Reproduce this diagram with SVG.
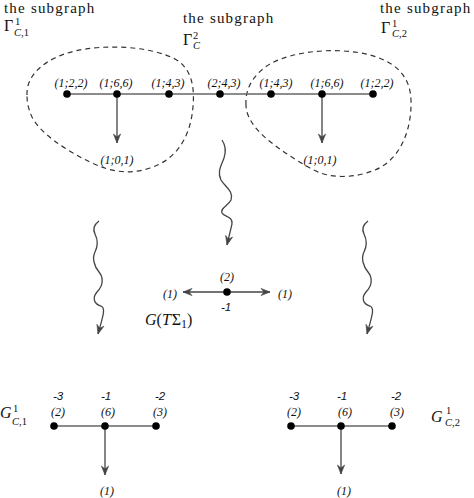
<svg xmlns="http://www.w3.org/2000/svg" width="474" height="498" viewBox="0 0 474 498">
<defs>
<style>
.t{font-family:'Liberation Serif','Times New Roman',serif;font-size:15px;letter-spacing:1.2px;fill:#111}
.m{font-family:'Liberation Serif','Times New Roman',serif;font-size:16px;fill:#111}
.ms{font-family:'Liberation Serif','Times New Roman',serif;font-size:10.5px;fill:#111}
.lab{font-family:'Liberation Serif','Times New Roman',serif;font-style:italic;font-size:12px;fill:#111;text-anchor:middle}
.num{font-family:'Liberation Sans',Arial,sans-serif;font-style:italic;font-size:11.5px;fill:#111;text-anchor:middle}
.edge{stroke:#666;stroke-width:1.6;fill:none}
.arr{stroke:#444;stroke-width:1.3;fill:none}
.wave{stroke:#444;stroke-width:1.3;fill:none}
.blob{stroke:#333;stroke-width:1.2;fill:none;stroke-dasharray:5,4}
.nd{fill:#000}
</style>
<marker id="ah" viewBox="-10 -5 12 10" refX="0" refY="0" markerWidth="12" markerHeight="10" markerUnits="userSpaceOnUse" orient="auto">
<path d="M0,0 L-9,-3.6 L-6,0 L-9,3.6 Z" fill="#444" stroke="#444" stroke-width="0.6"/>
</marker>
</defs>

<!-- titles -->
<g id="title-left">
<text class="t" x="4" y="13">the subgraph</text>
<text class="m" x="4" y="31">Γ</text><text class="ms" x="15" y="25">1</text><text class="ms" x="14" y="36"><tspan font-style="italic">C</tspan>,1</text>
</g>
<g id="title-mid">
<text class="t" x="183" y="23">the subgraph</text>
<text class="m" x="183" y="45">Γ</text><text class="ms" x="193" y="39">2</text><text class="ms" x="193" y="49" font-style="italic">C</text>
</g>
<g id="title-right">
<text class="t" x="380" y="13">the subgraph</text>
<text class="m" x="381" y="33">Γ</text><text class="ms" x="392" y="27">1</text><text class="ms" x="392" y="37"><tspan font-style="italic">C</tspan>,2</text>
</g>

<!-- dashed subgraph outlines -->
<g id="subgraph-1">
<path class="blob" d="M27,95 C26,75 45,58 75,51 C105,44 150,46 175,59 C195,70 195,95 192,115 C188,140 175,160 150,168 C130,175 110,172 90,162 C65,150 40,133 32,117 C28,108 27,102 27,95 Z"/>
</g>
<g id="subgraph-2">
<path class="blob" d="M246,105 C245,90 252,75 270,64 C295,50 340,47 370,55 C395,62 410,75 411,100 C412,130 400,160 375,170 C355,178 330,180 310,168 C290,157 265,140 255,127 C249,119 246,112 246,105 Z"/>
</g>

<!-- connectors -->
<g id="connectors">
<line class="edge" x1="67" y1="94" x2="373" y2="94"/>
<line class="arr" x1="117" y1="94" x2="117" y2="143" marker-end="url(#ah)"/>
<line class="arr" x1="322" y1="94" x2="322" y2="143" marker-end="url(#ah)"/>
<path class="wave" d="M222,140 C226,146 226,152 224,158 C221,166 217,172 221,180 C225,187 234,191 231,200 C228,206 220,208 222,213 C224,217 233,216 232,224 L227,245" marker-end="url(#ah)"/>
<path class="wave" d="M99,221 C95,224 92,228 95,234 C98,240 98,246 95,252 C92,258 94,266 99,272 C104,278 103,286 97,292 C92,298 94,304 101,306 C106,308 103,316 98,334" marker-end="url(#ah)"/>
<path class="wave" d="M368,221 C364,224 361,228 364,234 C367,240 367,246 364,252 C361,258 363,266 368,272 C373,278 372,286 366,292 C361,298 363,304 370,306 C375,308 372,316 367,334" marker-end="url(#ah)"/>
<line class="arr" x1="227" y1="292" x2="183" y2="292" marker-end="url(#ah)"/>
<line class="arr" x1="227" y1="292" x2="270" y2="292" marker-end="url(#ah)"/>
<line class="edge" x1="54" y1="426" x2="156" y2="426"/>
<line class="arr" x1="105" y1="426" x2="105" y2="475" marker-end="url(#ah)"/>
<line class="edge" x1="291" y1="426" x2="392" y2="426"/>
<line class="arr" x1="341" y1="426" x2="341" y2="474" marker-end="url(#ah)"/>
</g>

<!-- top row nodes -->
<g id="n-122a"><circle class="nd" cx="67" cy="94" r="3.8"/><text class="lab" x="71" y="87">(1;2,2)</text></g>
<g id="n-166a"><circle class="nd" cx="117" cy="94" r="3.8"/><text class="lab" x="116" y="87">(1;6,6)</text></g>
<g id="n-143a"><circle class="nd" cx="169" cy="94" r="3.8"/><text class="lab" x="168" y="87">(1;4,3)</text></g>
<g id="n-243"><circle class="nd" cx="220" cy="94" r="3.8"/><text class="lab" x="224" y="87">(2;4,3)</text></g>
<g id="n-143b"><circle class="nd" cx="271" cy="94" r="3.8"/><text class="lab" x="276" y="87">(1;4,3)</text></g>
<g id="n-166b"><circle class="nd" cx="322" cy="94" r="3.8"/><text class="lab" x="327" y="87">(1;6,6)</text></g>
<g id="n-122b"><circle class="nd" cx="373" cy="94" r="3.8"/><text class="lab" x="377" y="87">(1;2,2)</text></g>
<g id="n-101a"><text class="lab" x="117" y="164">(1;0,1)</text></g>
<g id="n-101b"><text class="lab" x="320" y="164">(1;0,1)</text></g>

<!-- G(T Sigma_1) -->
<g id="g-tsigma">
<circle class="nd" cx="227" cy="292" r="3.8"/>
<text class="lab" x="227" y="281">(2)</text>
<text class="num" x="226" y="311">-1</text>
<text class="lab" x="170" y="298">(1)</text>
<text class="lab" x="285" y="298">(1)</text>
<text class="m" x="145" y="325" font-size="18"><tspan font-style="italic">G</tspan>(<tspan font-style="italic">T</tspan><tspan dx="1">Σ</tspan><tspan font-size="12" dy="3">1</tspan><tspan dy="-3">)</tspan></text>
</g>

<!-- bottom left graph -->
<g id="g-c1">
<text class="m" x="0" y="418" font-style="italic" font-size="15">G</text><text class="ms" x="13" y="412">1</text><text class="ms" x="12" y="425"><tspan font-style="italic">C</tspan>,1</text>
</g>
<g id="b1-2"><circle class="nd" cx="54" cy="426" r="3.8"/><text class="num" x="58" y="400">-3</text><text class="lab" x="58" y="416">(2)</text></g>
<g id="b1-6"><circle class="nd" cx="105" cy="426" r="3.8"/><text class="num" x="106" y="400">-1</text><text class="lab" x="108" y="416">(6)</text></g>
<g id="b1-3"><circle class="nd" cx="156" cy="426" r="3.8"/><text class="num" x="160" y="400">-2</text><text class="lab" x="160" y="416">(3)</text></g>
<g id="b1-1"><text class="lab" x="107" y="495">(1)</text></g>

<!-- bottom right graph -->
<g id="g-c2">
<text class="m" x="431" y="422" font-style="italic" font-size="17">G</text><text class="ms" x="446" y="414">1</text><text class="ms" x="445" y="426"><tspan font-style="italic">C</tspan>,2</text>
</g>
<g id="b2-2"><circle class="nd" cx="291" cy="426" r="3.8"/><text class="num" x="294" y="400">-3</text><text class="lab" x="294" y="416">(2)</text></g>
<g id="b2-6"><circle class="nd" cx="341" cy="426" r="3.8"/><text class="num" x="342" y="400">-1</text><text class="lab" x="345" y="416">(6)</text></g>
<g id="b2-3"><circle class="nd" cx="392" cy="426" r="3.8"/><text class="num" x="396" y="400">-2</text><text class="lab" x="397" y="416">(3)</text></g>
<g id="b2-1"><text class="lab" x="344" y="495">(1)</text></g>
</svg>
